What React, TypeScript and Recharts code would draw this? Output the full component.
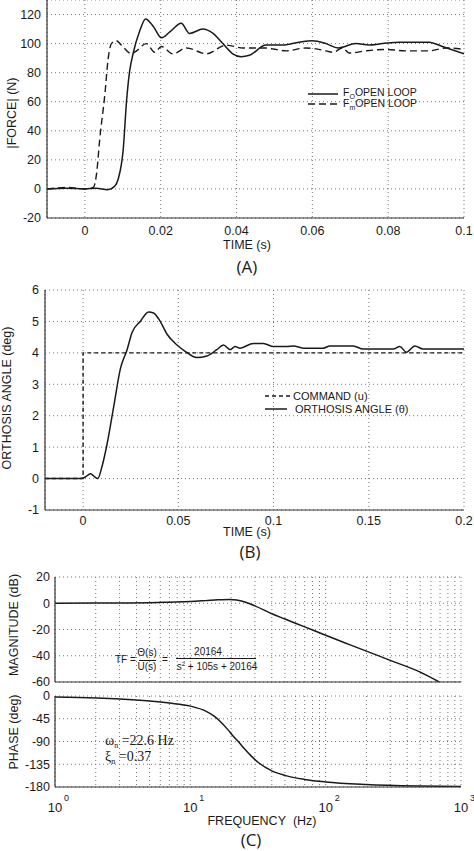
import { LineChart, Line, XAxis, YAxis, CartesianGrid } from 'recharts'

// (A) force step response
const foTime = [-0.01, -0.005, 0, 0.003, 0.006, 0.0079, 0.0088, 0.0101, 0.011, 0.0118, 0.0127, 0.0145, 0.016, 0.018, 0.0202, 0.0224, 0.0254, 0.0276, 0.0311, 0.0338, 0.0364, 0.039, 0.0412, 0.0434, 0.0478, 0.052, 0.0565, 0.06, 0.0636, 0.0668, 0.0715, 0.075, 0.0785, 0.0829, 0.0873, 0.0908, 0.0943, 0.1]
const foForce = [0, 0.5, 0, 0.5, -0.5, 2, 7, 27, 61, 81, 93, 109, 117, 112, 104, 108, 114, 107, 110, 107, 100, 93, 91, 92, 99, 99, 101, 102, 100, 97, 100, 99, 100, 101, 101, 101, 98, 93]
const fmTime = [-0.01, -0.0048, 0, 0.0022, 0.0031, 0.0039, 0.0053, 0.0061, 0.007, 0.0083, 0.0096, 0.0123, 0.0136, 0.0162, 0.0184, 0.0202, 0.0232, 0.0268, 0.032, 0.0373, 0.0417, 0.0478, 0.0504, 0.0531, 0.0583, 0.0636, 0.0654, 0.068, 0.0697, 0.0741, 0.0794, 0.0847, 0.0908, 0.0952, 0.1]
const fmForce = [0, 1, 0, 1, 11, 34, 66, 89, 100, 102, 99, 93, 95, 100, 94, 98, 93, 97, 93, 99, 97, 97, 96, 95, 97, 95, 94, 97, 93.5, 95, 96, 95, 95, 97, 96]
const forceTicks = [-20, 0, 20, 40, 60, 80, 100, 120]
const timeTicksA = [0, 0.02, 0.04, 0.06, 0.08, 0.1]

// (B) orthosis angle
const angleTime = [-0.02, -0.0014, 0.0012, 0.0038, 0.0056, 0.0077, 0.01, 0.0126, 0.0161, 0.0196, 0.0231, 0.0257, 0.03, 0.0344, 0.037, 0.0405, 0.044, 0.0493, 0.0536, 0.0597, 0.065, 0.0702, 0.0737, 0.0772, 0.0798, 0.0824, 0.0894, 0.0947, 0.0999, 0.1069, 0.1104, 0.1156, 0.1261, 0.1296, 0.1418, 0.1471, 0.1628, 0.1663, 0.1698, 0.1742, 0.1785, 0.2]
const angleDeg = [0, 0, 0.05, 0.15, 0.08, 0, 0.4, 1.1, 2.3, 3.5, 4.1, 4.65, 5.0, 5.3, 5.27, 5.0, 4.6, 4.25, 4.05, 3.85, 3.9, 4.1, 4.25, 4.1, 4.2, 4.15, 4.3, 4.3, 4.2, 4.2, 4.22, 4.15, 4.15, 4.22, 4.22, 4.12, 4.12, 4.2, 4.02, 4.22, 4.12, 4.12]
const cmdTime = [-0.02, 0, 0, 0.2]
const cmdDeg = [0, 0, 4, 4]
const angleTicks = [-1, 0, 1, 2, 3, 4, 5, 6]
const timeTicksB = [0, 0.05, 0.1, 0.15, 0.2]

// (C) bode
const magFreq = [1, 2, 3, 5, 7, 10, 13, 16, 19.6, 22, 25, 30, 40, 50, 70, 100, 150, 200, 300, 500, 690]
const magDb = [0, 0.1, 0.2, 0.4, 0.8, 1.3, 2.0, 2.6, 2.9, 2.5, 1.2, -2, -8, -12, -18, -24.4, -31.5, -36.5, -43.5, -52.5, -60]
const phaseFreq = [1, 2, 3, 5, 7, 10, 13, 15, 17, 19, 21, 22.6, 25, 28, 32, 40, 50, 70, 100, 200, 500, 1000]
const phaseDeg = [-2, -4, -6, -10, -14, -20, -30, -40, -53, -67, -81, -90, -104, -118, -132, -148, -157, -165, -170, -175, -178, -179]
const freqTicks = [1, 2, 3, 4, 5, 6, 7, 8, 9, 10, 20, 30, 40, 50, 60, 70, 80, 90, 100, 200, 300, 400, 500, 600, 700, 800, 900, 1000]
const magTicks = [-60, -40, -20, 0, 20]
const phaseTicks = [-180, -135, -90, -45, 0]

const FONT = '"Liberation Sans", Arial, sans-serif'
const INK = '#1a1a1a'
const tickStyle = { fontSize: 12.5, fill: INK, fontFamily: FONT }
const axisLine = { stroke: '#333', strokeWidth: 1.2 }
const GRID = { stroke: '#777', strokeDasharray: '1 3' }

const pts = (xs: number[], ys: number[]) => xs.map((x, i) => ({ x, y: ys[i] }))

function Txt({ x, y, size = 12.5, rotate = false, start = false, family = FONT, children }: any) {
  const tr = start ? 'translate(0,-50%)' : 'translate(-50%,-50%)'
  return (
    <div
      style={{
        position: 'absolute',
        left: x,
        top: y,
        transform: tr + (rotate ? ' rotate(-90deg)' : ''),
        fontSize: size,
        fontFamily: family,
        whiteSpace: 'nowrap',
        color: INK,
        lineHeight: 1,
      }}
    >
      {children}
    </div>
  )
}

function Low({ size, drop, children }: any) {
  return <span style={{ fontSize: size, position: 'relative', top: drop }}>{children}</span>
}

function Sample({ x, y, w, dash }: { x: number; y: number; w: number; dash?: string }) {
  return (
    <svg style={{ position: 'absolute', left: x, top: y - 3 }} width={w} height={6}>
      <line x1={0} y1={3} x2={w} y2={3} stroke={INK} strokeWidth={1.5} strokeDasharray={dash} />
    </svg>
  )
}

function DecadeTick(props: any) {
  const { x, y, payload } = props
  const e = Math.log10(payload.value)
  if (Math.abs(e - Math.round(e)) > 1e-9) return <g />
  return (
    <g fontFamily={FONT} fill={INK}>
      <text x={x} y={y + 23} textAnchor="middle" fontSize={13}>10</text>
      <text x={x + 9} y={y + 12} fontSize={9}>{Math.round(e)}</text>
    </g>
  )
}

const noTick = () => <g />

function ForcePanel() {
  return (
    <div style={{ position: 'absolute', left: 0, top: 0 }}>
      <LineChart width={474} height={280} margin={{ top: 0, right: 10, bottom: 32, left: 0 }}>
        <CartesianGrid {...GRID} />
        <XAxis dataKey="x" type="number" domain={[-0.01, 0.1]} ticks={timeTicksA} interval={0}
          allowDataOverflow tickLine={false} tickSize={0} tickMargin={8} axisLine={axisLine} tick={tickStyle} height={30} />
        <YAxis type="number" domain={[-20, 130]} ticks={forceTicks} interval={0} allowDataOverflow
          tickLine={false} tickSize={0} tickMargin={6} axisLine={axisLine} tick={tickStyle} width={47} />
        <Line data={pts(fmTime, fmForce)} dataKey="y" type="monotone" stroke={INK} strokeWidth={1.4}
          strokeDasharray="7 4" dot={false} isAnimationActive={false} />
        <Line data={pts(foTime, foForce)} dataKey="y" type="monotone" stroke={INK} strokeWidth={1.5}
          dot={false} isAnimationActive={false} />
      </LineChart>
      <Txt x={12} y={113} rotate>|FORCE| (N)</Txt>
      <Txt x={247} y={245}>TIME (s)</Txt>
      <Txt x={247} y={266} size={17} family='"Open Sans", sans-serif'>(A)</Txt>
      <Sample x={308} y={94} w={30} />
      <Txt x={343} y={92} size={10.5} start>
        F<Low size={7} drop={3}>O</Low>OPEN LOOP
      </Txt>
      <Sample x={308} y={104} w={30} dash="7 4" />
      <Txt x={343} y={103} size={10.5} start>
        F<Low size={7} drop={3}>m</Low>OPEN LOOP
      </Txt>
    </div>
  )
}

function AnglePanel() {
  return (
    <div style={{ position: 'absolute', left: 0, top: 280 }}>
      <LineChart width={474} height={270} margin={{ top: 10, right: 10, bottom: 10, left: 0 }}>
        <CartesianGrid {...GRID} />
        <XAxis dataKey="x" type="number" domain={[-0.02, 0.2]} ticks={timeTicksB} interval={0}
          allowDataOverflow tickLine={false} tickSize={0} tickMargin={6} axisLine={axisLine} tick={tickStyle} height={30} />
        <YAxis type="number" domain={[-1, 6]} ticks={angleTicks} interval={0} allowDataOverflow
          tickLine={false} tickSize={0} tickMargin={6} axisLine={axisLine} tick={tickStyle} width={45} />
        <Line data={pts(cmdTime, cmdDeg)} dataKey="y" type="linear" stroke={INK} strokeWidth={1.4}
          strokeDasharray="4 3" dot={false} isAnimationActive={false} />
        <Line data={pts(angleTime, angleDeg)} dataKey="y" type="monotone" stroke={INK} strokeWidth={1.5}
          dot={false} isAnimationActive={false} />
      </LineChart>
      <Txt x={7} y={118} rotate>ORTHOSIS ANGLE (deg)</Txt>
      <Txt x={247} y={252}>TIME (s)</Txt>
      <Sample x={265} y={116} w={27} dash="4 3" />
      <Txt x={293} y={116} size={11} start>COMMAND (u)</Txt>
      <Sample x={265} y={129} w={22} />
      <Txt x={295} y={129} size={11} start>ORTHOSIS ANGLE (θ)</Txt>
    </div>
  )
}

function BodePanel() {
  return (
    <>
      <div style={{ position: 'absolute', left: 0, top: 567 }}>
        <LineChart width={474} height={127} margin={{ top: 10, right: 13, bottom: 0, left: 0 }}>
          <CartesianGrid {...GRID} />
          <XAxis dataKey="x" type="number" scale="log" domain={[1, 1000]} ticks={freqTicks} interval={0}
            allowDataOverflow tickLine={false} tickSize={0} axisLine={axisLine} tick={noTick} height={12} />
          <YAxis type="number" domain={[-60, 20]} ticks={magTicks} interval={0} allowDataOverflow
            tickLine={false} tickSize={0} tickMargin={5} axisLine={axisLine} tick={tickStyle} width={55} />
          <Line data={pts(magFreq, magDb)} dataKey="y" type="monotone" stroke={INK} strokeWidth={1.5}
            dot={false} isAnimationActive={false} />
        </LineChart>
      </div>
      <div style={{ position: 'absolute', left: 0, top: 686 }}>
        <LineChart width={474} height={131} margin={{ top: 10, right: 13, bottom: 0, left: 0 }}>
          <CartesianGrid {...GRID} />
          <XAxis dataKey="x" type="number" scale="log" domain={[1, 1000]} ticks={freqTicks} interval={0}
            allowDataOverflow tickLine={false} tickSize={0} axisLine={axisLine} tick={<DecadeTick />} height={30} />
          <YAxis type="number" domain={[-180, 0]} ticks={phaseTicks} interval={0} allowDataOverflow
            tickLine={false} tickSize={0} tickMargin={5} axisLine={axisLine} tick={tickStyle} width={55} />
          <Line data={pts(phaseFreq, phaseDeg)} dataKey="y" type="monotone" stroke={INK} strokeWidth={1.5}
            dot={false} isAnimationActive={false} />
        </LineChart>
      </div>
      <Txt x={14} y={625} rotate>MAGNITUDE (dB)</Txt>
      <Txt x={14} y={732} rotate>PHASE (deg)</Txt>
      <Txt x={262} y={821}>FREQUENCY&nbsp;&nbsp;(Hz)</Txt>
      <Txt x={251} y={839} size={17} family='"Open Sans", sans-serif'>(C)</Txt>

      <Txt x={115} y={660} size={10} start>TF =</Txt>
      <Txt x={147} y={653} size={10}>Θ(s)</Txt>
      <div style={{ position: 'absolute', left: 139, top: 659.5, width: 17, height: 1, background: INK }} />
      <Txt x={147} y={667} size={10}>U(s)</Txt>
      <Txt x={165} y={660} size={10}>=</Txt>
      <Txt x={208} y={652} size={10}>20164</Txt>
      <div style={{ position: 'absolute', left: 176, top: 658, width: 80, height: 1, background: INK }} />
      <Txt x={217} y={667} size={10}>
        s<Low size={6} drop={-4}>2</Low> + 105s + 20164
      </Txt>

      <Txt x={105} y={741} size={14} start family='"Liberation Serif", serif'>
        ω<Low size={8} drop={3}>n</Low> =22.6 Hz
      </Txt>
      <Txt x={105} y={757} size={14} start family='"Liberation Serif", serif'>
        ξ<Low size={8} drop={3}>n</Low> =0.37
      </Txt>
    </>
  )
}

export default function App() {
  return (
    <div style={{ position: 'absolute', left: 0, top: 0, width: 474, height: 851, background: '#fff', overflow: 'hidden' }}>
      <ForcePanel />
      <Txt x={250} y={551} size={17} family='"Open Sans", sans-serif'>(B)</Txt>
      <AnglePanel />
      <BodePanel />
    </div>
  )
}
